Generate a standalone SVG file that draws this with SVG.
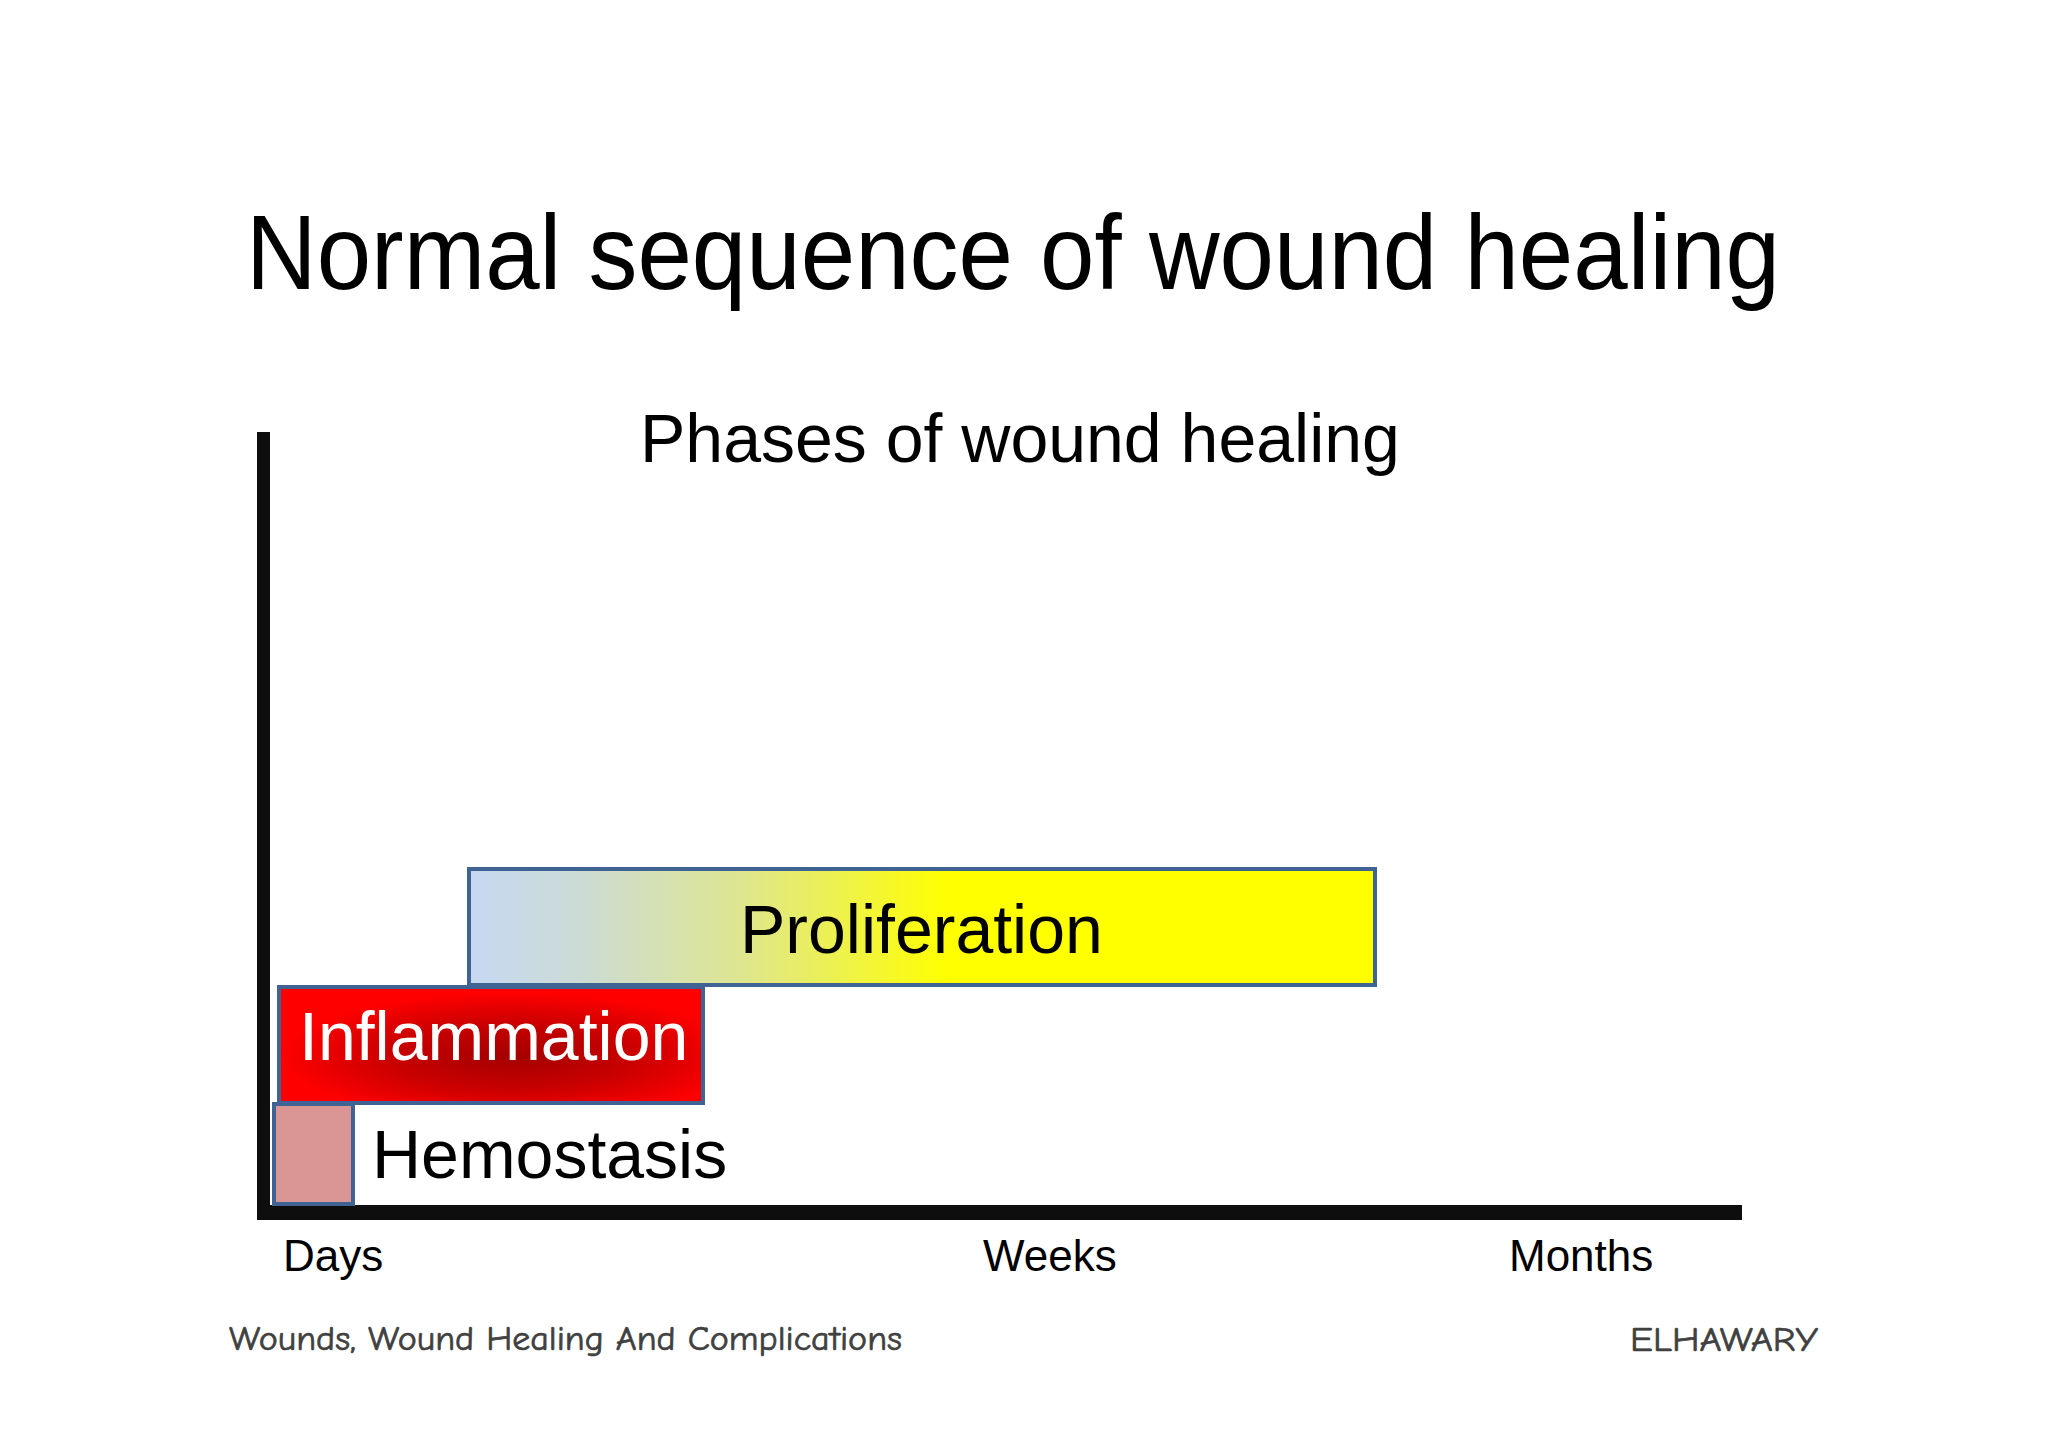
<svg xmlns="http://www.w3.org/2000/svg" width="2048" height="1447" viewBox="0 0 2048 1447">
  <style>
    .sans { font-family: "Liberation Sans", Arial, sans-serif; fill: #000; }
    .box { stroke: #3F6494; stroke-width: 4; }
    .axis { fill: #0E0E0E; }
    .foot { font-family: "Comic Sans MS", "Comic Neue", "Open Sans", sans-serif; fill: #404040; stroke: #404040; stroke-width: 0.7; font-size: 35px; }
  </style>
  <defs>
    <linearGradient id="gProl" x1="0" y1="0" x2="1" y2="0">
      <stop offset="0" stop-color="#C5D8F1"/>
      <stop offset="0.12" stop-color="#CCDBD6"/>
      <stop offset="0.3" stop-color="#DEE690"/>
      <stop offset="0.53" stop-color="#FFFF00"/>
      <stop offset="1" stop-color="#FFFF00"/>
    </linearGradient>
    <radialGradient id="gInfl" cx="0.55" cy="0.6" r="0.55" fx="0.55" fy="0.6">
      <stop offset="0" stop-color="#A30000"/>
      <stop offset="0.5" stop-color="#C80000"/>
      <stop offset="1" stop-color="#FF0000"/>
    </radialGradient>
  </defs>
  <rect x="0" y="0" width="2048" height="1447" fill="#FFFFFF"/>

  <text id="title" class="sans" x="246" y="289" font-size="106" textLength="1534" lengthAdjust="spacingAndGlyphs">Normal sequence of wound healing</text>
  <text id="subtitle" class="sans" x="640" y="462" font-size="68">Phases of wound healing</text>

  <g id="axes">
    <rect class="axis" x="257" y="432" width="13" height="788"/>
    <rect class="axis" x="258" y="1205" width="1484" height="15"/>
  </g>

  <g id="proliferation">
    <rect class="box" x="469" y="869" width="906" height="116" fill="url(#gProl)"/>
    <text class="sans" x="740" y="953" font-size="68">Proliferation</text>
  </g>

  <g id="inflammation">
    <rect class="box" x="279" y="987" width="424" height="116" fill="url(#gInfl)"/>
    <text class="sans" x="299" y="1060" font-size="68" style="fill:#FFFFFF">Inflammation</text>
  </g>

  <g id="hemostasis">
    <rect class="box" x="274" y="1104" width="79" height="100" fill="#D99694"/>
    <text class="sans" x="372" y="1178" font-size="68">Hemostasis</text>
  </g>

  <g id="connectors"></g>

  <g id="labels">
    <text class="sans" x="283" y="1271" font-size="44">Days</text>
    <text class="sans" x="983" y="1271" font-size="44">Weeks</text>
    <text class="sans" x="1509" y="1271" font-size="44">Months</text>
  </g>

  <g id="footer">
    <text class="foot" x="229" y="1350" textLength="673" lengthAdjust="spacingAndGlyphs">Wounds, Wound Healing And Complications</text>
    <text class="foot" x="1630" y="1351" textLength="188" lengthAdjust="spacingAndGlyphs">ELHAWARY</text>
  </g>
</svg>
